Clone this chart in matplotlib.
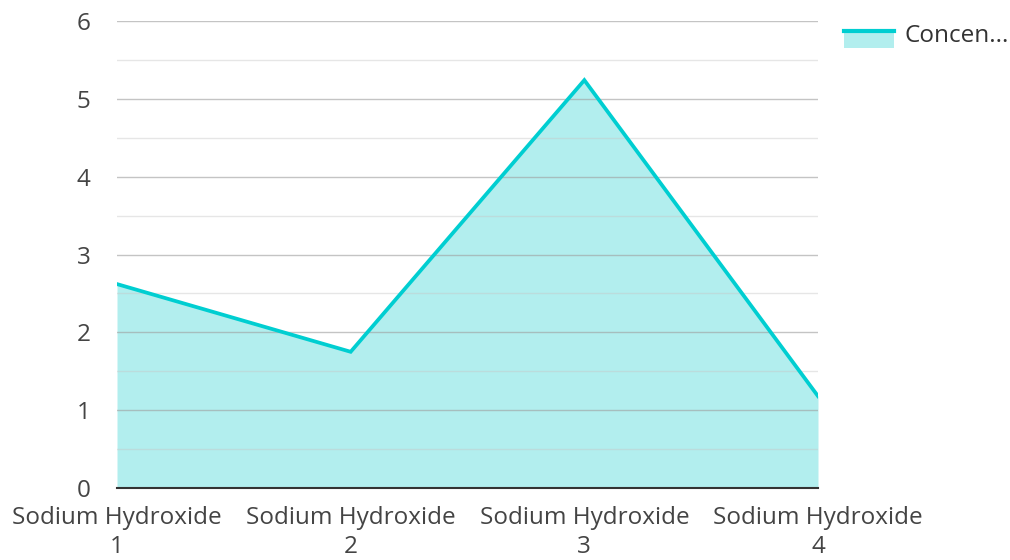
import matplotlib.pyplot as plt
from matplotlib.patches import Patch
from matplotlib.lines import Line2D

plt.rcParams['font.family'] = ['Open Sans', 'DejaVu Sans']

# data
categories = ['Sodium Hydroxide\n1', 'Sodium Hydroxide\n2', 'Sodium Hydroxide\n3', 'Sodium Hydroxide\n4']
concentration = [2.62, 1.75, 5.24, 1.18]
series_name = 'Concen...'

line_color = '#00CED1'
fill_color = '#B2EEEE'

fig = plt.figure(figsize=(10.1, 5.6), dpi=100)
ax = fig.add_axes([117 / 1010, 72 / 560, 701 / 1010, 467 / 560])

x = list(range(len(categories)))
ax.fill_between(x, concentration, 0, color=fill_color, linewidth=0, zorder=1)
ax.plot(x, concentration, color=line_color, linewidth=2.7, zorder=3, solid_joinstyle='miter')

# grid lines: major at integers, minor at halves
for v in range(1, 7):
    ax.axhline(v, color='#9e9e9e', linewidth=1, alpha=0.6, zorder=2)
for v in [0.5, 1.5, 2.5, 3.5, 4.5, 5.5]:
    ax.axhline(v, color='#c8c8c8', linewidth=1, alpha=0.45, zorder=2)

ax.set_xlim(0, len(categories) - 1)
ax.set_ylim(0, 6)
ax.set_yticks(range(0, 7))
ax.set_xticks(x)
ax.set_xticklabels(categories, linespacing=1.3)
ax.tick_params(axis='both', length=0, labelsize=17.5, colors='#444444')
ax.tick_params(axis='y', pad=19)
ax.tick_params(axis='x', pad=13)

for side in ['top', 'right', 'left']:
    ax.spines[side].set_visible(False)
ax.spines['bottom'].set_color('#333333')
ax.spines['bottom'].set_linewidth(1.5)
ax.spines['bottom'].set_zorder(4)


# legend key: line on top of a filled block, like an area series
class AreaHandler:
    def legend_artist(self, legend, orig_handle, fontsize, handlebox):
        x0, y0 = handlebox.xdescent, handlebox.ydescent
        w, h = handlebox.width, handlebox.height
        top = y0 + h * 0.6
        bottom = y0 - h * 0.35
        patch = plt.Rectangle((x0, bottom), w, top - bottom, facecolor=fill_color, edgecolor='none',
                              transform=handlebox.get_transform())
        line = Line2D([x0, x0 + w], [top, top], color=line_color, linewidth=3,
                      transform=handlebox.get_transform())
        handlebox.add_artist(patch)
        handlebox.add_artist(line)
        return patch


handle = Patch(facecolor=fill_color)
leg = fig.legend([handle], [series_name], handler_map={Patch: AreaHandler()},
                 loc='upper left', bbox_to_anchor=(822 / 1010, 1 - 2 / 560),
                 frameon=False, fontsize=17.5, handlelength=2.06, handleheight=0.75,
                 handletextpad=0.45, labelcolor='#333333')

fig.savefig('out.png', dpi=100)
